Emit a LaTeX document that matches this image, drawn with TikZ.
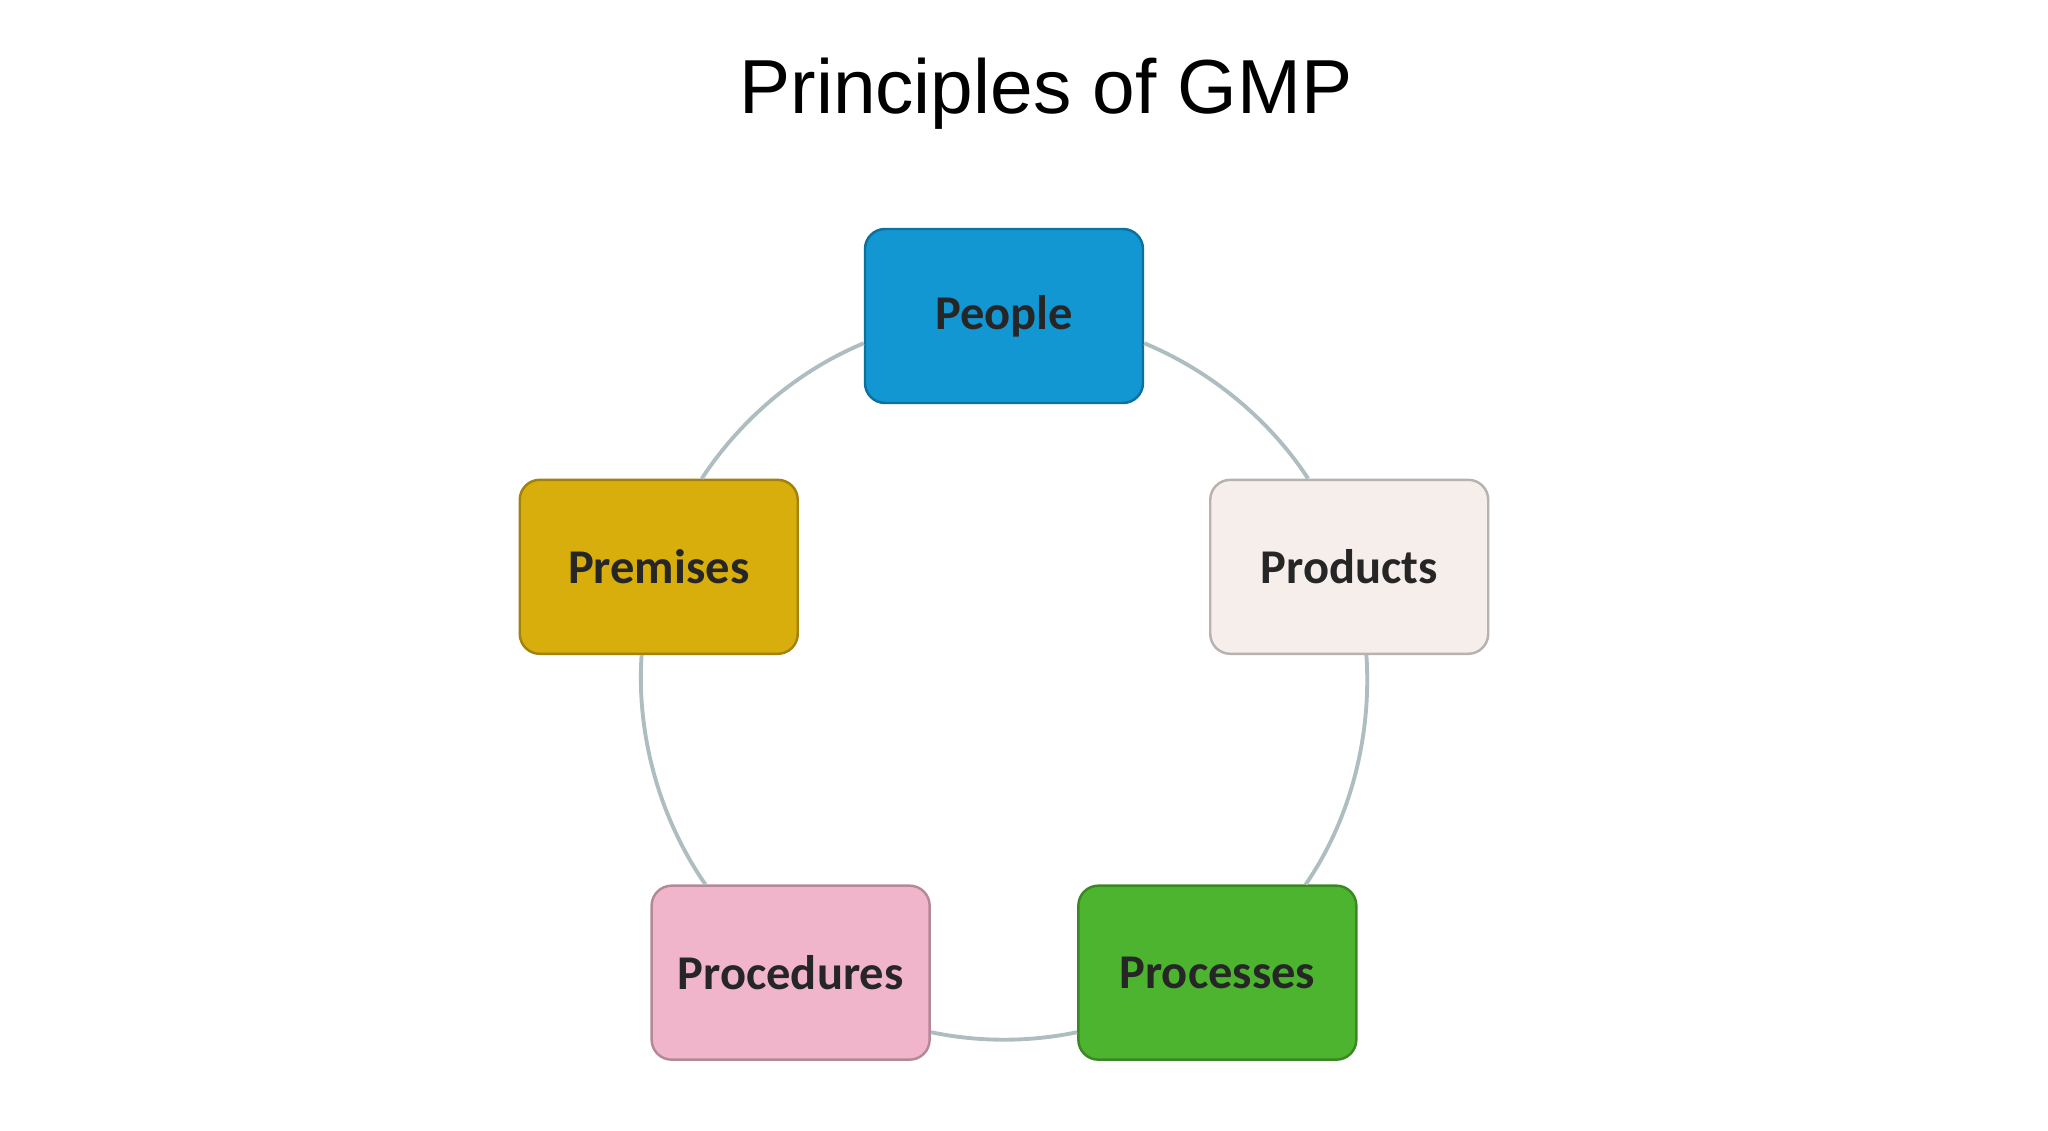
\documentclass[tikz,border=0pt]{standalone}
\usepackage{fontspec}
\setmainfont{Carlito}
\newfontfamily\titlefont{Liberation Sans}
\definecolor{peopleblue}{HTML}{1297D2}
\definecolor{productcream}{HTML}{F6EEEA}
\definecolor{processgreen}{HTML}{4DB42F}
\definecolor{procedurepink}{HTML}{F1B5CB}
\definecolor{premisegold}{HTML}{D8AE0C}
\definecolor{ringgrey}{HTML}{AEBDC0}
\tikzset{
  stepbox/.style={draw=#1!75!black, fill=#1, line width=0.7pt, rounded corners=0.2cm,
    minimum width=2.78cm, minimum height=1.74cm, text=black!85,
    font=\bfseries\fontsize{13.8}{16}\selectfont},
  ring/.style={draw=ringgrey, line width=1.1pt, looseness=0.86}
}
\begin{document}
\begin{tikzpicture}
\useasboundingbox (0,0) rectangle (20.48,11.31);
\node[font=\titlefont\fontsize{21.8}{26}\selectfont] (title) at (10.46,10.37) {Principles of GMP};
\coordinate (c) at (10.04,4.52);
\foreach \name/\ang/\col/\txt in {people/90/peopleblue/People,
    products/18/productcream/Products, processes/-54/processgreen/Processes,
    procedures/-126/procedurepink/Procedures, premises/162/premisegold/Premises}
  \node[stepbox=\col] (\name) at ([shift={(\ang:3.63)}]c) {\txt};
\foreach \a/\sa/\o/\b/\ea/\i in {people/-11.4/-22.5/products/115.4/123.2,
    products/-79/-86.1/processes/45.6/55.2,
    processes/203.9/-168.2/procedures/-23.9/-11.8,
    procedures/134.4/124.8/premises/259/-93.9,
    premises/64.4/56.8/people/191.3/202.5}
  \draw[ring] (\a.\sa) to[out=\o, in=\i] (\b.\ea);
\end{tikzpicture}
\end{document}
